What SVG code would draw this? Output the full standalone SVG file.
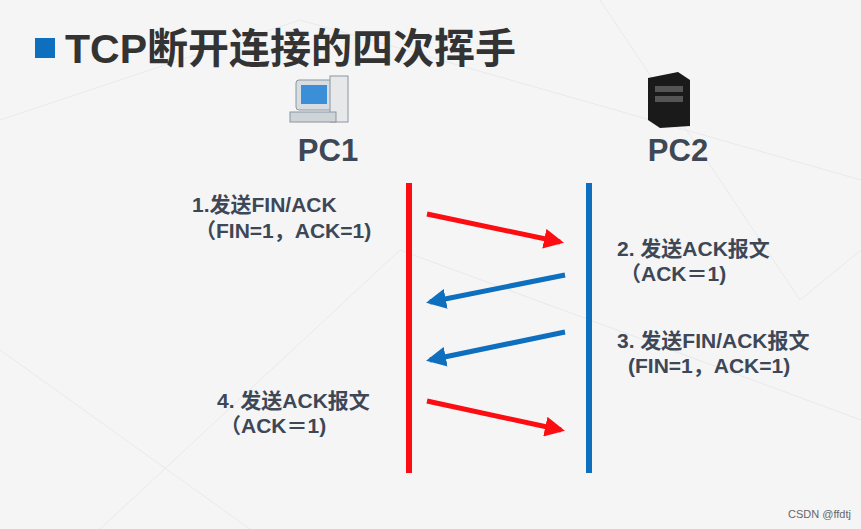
<svg xmlns="http://www.w3.org/2000/svg" width="861" height="529" viewBox="0 0 861 529">
<style>
.t{font-family:"Liberation Sans","Noto Sans CJK SC",sans-serif;font-weight:bold;fill:#3d4755}
.lb{font-size:21px}
.red{stroke:#fb0d12;stroke-width:5}
.blue{stroke:#0d6fbd;stroke-width:5}
</style>
<defs>
<marker id="ar" viewBox="0 0 10 10" refX="8" refY="5" markerWidth="4" markerHeight="4" orient="auto"><path d="M0,0L10,5L0,10z" fill="#fb0d12"/></marker>
<marker id="ab" viewBox="0 0 10 10" refX="8" refY="5" markerWidth="4" markerHeight="4" orient="auto"><path d="M0,0L10,5L0,10z" fill="#0d6fbd"/></marker>
</defs>
<rect width="861" height="529" fill="#f5f5f6"/>
<g stroke="#e9e9ec" stroke-width="1" fill="none">
<path d="M0,120L300,20L861,180M100,529L400,250L861,420M0,350L250,529M600,0L800,300L861,250"/>
</g>
<g id="title">
<rect x="35" y="38" width="20" height="20" fill="#0d6fbd"/>
<text x="65" y="63" class="t" font-size="41" style="fill:#333">TCP断开连接的四次挥手</text>
</g>
<g id="pc1">
<rect x="296" y="80" width="36" height="30" rx="3" fill="#d8dde2" stroke="#8a96a0"/>
<rect x="301" y="85" width="26" height="19" fill="#3a8fd8"/>
<rect x="330" y="76" width="18" height="46" fill="#e6e8ea" stroke="#8a96a0"/>
<rect x="290" y="112" width="46" height="10" fill="#cfd4d8" stroke="#8a96a0"/>
<text x="328" y="161" class="t" font-size="31" text-anchor="middle">PC1</text>
</g>
<g id="pc2">
<path d="M648,78L678,72L690,80L690,126L660,128L648,120Z" fill="#1a1a1a"/>
<rect x="655" y="86" width="28" height="6" fill="#555"/>
<rect x="655" y="96" width="28" height="6" fill="#555"/>
<text x="678" y="161" class="t" font-size="31" text-anchor="middle">PC2</text>
</g>
<g id="connectors">
<line x1="409" y1="183" x2="409" y2="473" stroke="#fb0d12" stroke-width="6"/>
<line x1="589" y1="183" x2="589" y2="473" stroke="#0d6fbd" stroke-width="6"/>
<line x1="427" y1="214" x2="560" y2="242" class="red" marker-end="url(#ar)"/>
<line x1="565" y1="275" x2="430" y2="302" class="blue" marker-end="url(#ab)"/>
<line x1="565" y1="332" x2="430" y2="360" class="blue" marker-end="url(#ab)"/>
<line x1="427" y1="401" x2="561" y2="430" class="red" marker-end="url(#ar)"/>
</g>
<g id="labels">
<text x="192" y="212" class="t lb">1.发送FIN/ACK</text>
<text x="195" y="238" class="t lb">（FIN=1，ACK=1)</text>
<text x="617" y="256" class="t lb">2. 发送ACK报文</text>
<text x="620" y="281" class="t lb">（ACK＝1)</text>
<text x="617" y="348" class="t lb">3. 发送FIN/ACK报文</text>
<text x="628" y="373" class="t lb">(FIN=1，ACK=1)</text>
<text x="217" y="408" class="t lb">4. 发送ACK报文</text>
<text x="220" y="433" class="t lb">（ACK＝1)</text>
</g>
<text x="788" y="518" font-family="Liberation Sans,sans-serif" font-size="11" fill="#666">CSDN @ffdtj</text>
</svg>
